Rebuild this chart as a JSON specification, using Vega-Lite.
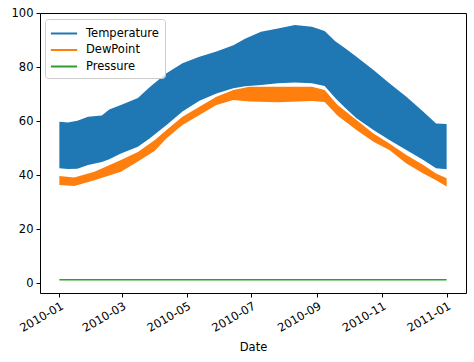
{
  "$schema": "https://vega.github.io/schema/vega-lite/v6.json",
  "width": 426,
  "height": 280,
  "autosize": {"type": "none"},
  "padding": {"left": 40, "top": 13, "right": 8, "bottom": 69},
  "background": "white",
  "config": {
    "view": {"stroke": "black", "strokeWidth": 1},
    "font": "DejaVu Sans",
    "axis": {
      "domain": false, "grid": false, "tickColor": "black", "tickSize": 4, "tickWidth": 1,
      "labelFontSize": 11.5, "labelColor": "black", "labelFont": "DejaVu Sans",
      "titleFont": "DejaVu Sans", "titleFontSize": 11.5, "titleFontWeight": "normal", "titleColor": "black",
      "labelPadding": 3
    }
  },
  "datasets": {
    "bands": [
      {"series": "Temperature", "date": "2010-01-01", "hi": 59.7, "lo": 42.5},
      {"series": "Temperature", "date": "2010-01-09", "hi": 59.4, "lo": 42.2},
      {"series": "Temperature", "date": "2010-01-18", "hi": 60.1, "lo": 42.3},
      {"series": "Temperature", "date": "2010-01-28", "hi": 61.6, "lo": 43.7},
      {"series": "Temperature", "date": "2010-02-10", "hi": 62.0, "lo": 44.8},
      {"series": "Temperature", "date": "2010-02-17", "hi": 64.3, "lo": 45.8},
      {"series": "Temperature", "date": "2010-02-28", "hi": 65.9, "lo": 48.0},
      {"series": "Temperature", "date": "2010-03-16", "hi": 68.5, "lo": 50.5},
      {"series": "Temperature", "date": "2010-03-27", "hi": 72.5, "lo": 53.5},
      {"series": "Temperature", "date": "2010-04-12", "hi": 77.7, "lo": 58.5},
      {"series": "Temperature", "date": "2010-04-27", "hi": 81.4, "lo": 63.5},
      {"series": "Temperature", "date": "2010-05-13", "hi": 83.8, "lo": 67.5},
      {"series": "Temperature", "date": "2010-05-29", "hi": 85.7, "lo": 70.2},
      {"series": "Temperature", "date": "2010-06-14", "hi": 88.1, "lo": 72.1},
      {"series": "Temperature", "date": "2010-06-25", "hi": 90.5, "lo": 72.9},
      {"series": "Temperature", "date": "2010-07-10", "hi": 93.1, "lo": 73.3},
      {"series": "Temperature", "date": "2010-07-26", "hi": 94.3, "lo": 74.0},
      {"series": "Temperature", "date": "2010-08-11", "hi": 95.6, "lo": 74.3},
      {"series": "Temperature", "date": "2010-08-27", "hi": 94.9, "lo": 74.0},
      {"series": "Temperature", "date": "2010-09-08", "hi": 93.3, "lo": 73.0},
      {"series": "Temperature", "date": "2010-09-18", "hi": 89.5, "lo": 68.5},
      {"series": "Temperature", "date": "2010-09-27", "hi": 87.0, "lo": 65.0},
      {"series": "Temperature", "date": "2010-10-08", "hi": 83.8, "lo": 61.0},
      {"series": "Temperature", "date": "2010-10-24", "hi": 78.9, "lo": 56.7},
      {"series": "Temperature", "date": "2010-11-08", "hi": 74.0, "lo": 53.0},
      {"series": "Temperature", "date": "2010-11-24", "hi": 69.0, "lo": 49.3},
      {"series": "Temperature", "date": "2010-12-10", "hi": 63.4, "lo": 45.6},
      {"series": "Temperature", "date": "2010-12-22", "hi": 59.1, "lo": 42.5},
      {"series": "Temperature", "date": "2010-12-31T23:00:00Z", "hi": 58.9, "lo": 42.1},
      {"series": "DewPoint", "date": "2010-01-01", "hi": 39.6, "lo": 36.3},
      {"series": "DewPoint", "date": "2010-01-15", "hi": 39.1, "lo": 35.9},
      {"series": "DewPoint", "date": "2010-02-03", "hi": 41.2, "lo": 38.1},
      {"series": "DewPoint", "date": "2010-02-28", "hi": 45.6, "lo": 41.2},
      {"series": "DewPoint", "date": "2010-03-16", "hi": 48.5, "lo": 45.0},
      {"series": "DewPoint", "date": "2010-04-01", "hi": 53.0, "lo": 49.0},
      {"series": "DewPoint", "date": "2010-04-12", "hi": 56.7, "lo": 53.6},
      {"series": "DewPoint", "date": "2010-04-27", "hi": 61.6, "lo": 58.5},
      {"series": "DewPoint", "date": "2010-05-13", "hi": 65.3, "lo": 62.2},
      {"series": "DewPoint", "date": "2010-05-29", "hi": 69.0, "lo": 65.9},
      {"series": "DewPoint", "date": "2010-06-14", "hi": 71.5, "lo": 67.8},
      {"series": "DewPoint", "date": "2010-06-29", "hi": 72.7, "lo": 67.2},
      {"series": "DewPoint", "date": "2010-07-26", "hi": 72.7, "lo": 66.9},
      {"series": "DewPoint", "date": "2010-08-27", "hi": 72.7, "lo": 67.4},
      {"series": "DewPoint", "date": "2010-09-08", "hi": 71.5, "lo": 67.0},
      {"series": "DewPoint", "date": "2010-09-20", "hi": 66.0, "lo": 62.0},
      {"series": "DewPoint", "date": "2010-10-08", "hi": 60.4, "lo": 56.7},
      {"series": "DewPoint", "date": "2010-10-24", "hi": 55.4, "lo": 52.3},
      {"series": "DewPoint", "date": "2010-11-08", "hi": 51.7, "lo": 49.3},
      {"series": "DewPoint", "date": "2010-11-24", "hi": 47.4, "lo": 44.3},
      {"series": "DewPoint", "date": "2010-12-10", "hi": 43.7, "lo": 40.6},
      {"series": "DewPoint", "date": "2010-12-22", "hi": 40.6, "lo": 38.1},
      {"series": "DewPoint", "date": "2010-12-31T23:00:00Z", "hi": 38.8, "lo": 35.7}
    ],
    "pressure": [
      {"series": "Pressure", "date": "2010-01-01", "value": 1.2},
      {"series": "Pressure", "date": "2010-04-01", "value": 1.2},
      {"series": "Pressure", "date": "2010-07-01", "value": 1.2},
      {"series": "Pressure", "date": "2010-10-01", "value": 1.2},
      {"series": "Pressure", "date": "2010-12-31T23:00:00Z", "value": 1.2}
    ]
  },
  "layer": [
    {
      "data": {"name": "bands"},
      "mark": {"type": "area", "opacity": 1},
      "encoding": {
        "x": {
          "field": "date", "type": "temporal", "title": "Date",
          "scale": {"type": "utc", "domain": [
            {"year": 2009, "month": 12, "date": 13, "hours": 18, "utc": true},
            {"year": 2011, "month": 1, "date": 19, "hours": 5, "utc": true}
          ]},
          "axis": {
            "values": [
              {"year": 2010, "month": 1, "date": 1, "utc": true},
              {"year": 2010, "month": 3, "date": 1, "utc": true},
              {"year": 2010, "month": 5, "date": 1, "utc": true},
              {"year": 2010, "month": 7, "date": 1, "utc": true},
              {"year": 2010, "month": 9, "date": 1, "utc": true},
              {"year": 2010, "month": 11, "date": 1, "utc": true},
              {"year": 2011, "month": 1, "date": 1, "utc": true}
            ],
            "labelExpr": "utcFormat(datum.value, '%Y-%m')",
            "labelAngle": -30, "labelAlign": "right", "labelBaseline": "top",
            "titlePadding": 8
          }
        },
        "y": {
          "field": "hi", "type": "quantitative", "title": null,
          "scale": {"domain": [-3.7, 100], "nice": false, "zero": false},
          "axis": {"values": [0, 20, 40, 60, 80, 100]}
        },
        "y2": {"field": "lo"},
        "color": {
          "field": "series", "type": "nominal",
          "scale": {"domain": ["Temperature", "DewPoint", "Pressure"], "range": ["#1f77b4", "#ff7f0e", "#2ca02c"]},
          "legend": {
            "title": null, "orient": "none", "legendX": 5, "legendY": 6,
            "symbolType": "M-1.75,0H1.75", "symbolSize": 225, "symbolStrokeWidth": 2, "symbolOffset": 4.5,
            "labelFontSize": 11.5, "labelFont": "DejaVu Sans", "labelColor": "black",
            "labelOffset": 13.5, "padding": 6, "rowPadding": 2.5,
            "strokeColor": "#cccccc", "fillColor": "rgba(255,255,255,0.8)", "cornerRadius": 3,
            "encode": {"symbols": {"update": {
              "stroke": {"scale": "color", "field": "value"},
              "fill": {"value": "transparent"},
              "strokeWidth": {"value": 2},
              "opacity": {"value": 1}
            }}}
          }
        }
      }
    },
    {
      "data": {"name": "pressure"},
      "mark": {"type": "line", "strokeWidth": 1.5},
      "encoding": {
        "x": {"field": "date", "type": "temporal"},
        "y": {"field": "value", "type": "quantitative"},
        "color": {"field": "series", "type": "nominal"}
      }
    }
  ]
}
